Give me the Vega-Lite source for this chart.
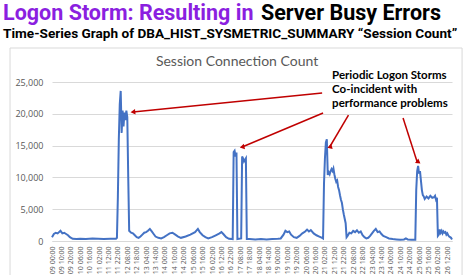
{
  "$schema": "https://vega.github.io/schema/vega-lite/v6.json",
  "width": 400,
  "height": 159,
  "autosize": {"type": "none"},
  "padding": {"left": 52, "top": 82, "right": 22, "bottom": 34},
  "background": "white",
  "config": {"view": {"stroke": null}},
  "datasets": {
    "series": [
      {"t": "2019-05-09T00:00", "v": 600}, {"t": "2019-05-09T02:00", "v": 1100}, {"t": "2019-05-09T04:00", "v": 1300},
      {"t": "2019-05-09T06:00", "v": 1200}, {"t": "2019-05-09T09:00", "v": 1600}, {"t": "2019-05-09T11:00", "v": 1200},
      {"t": "2019-05-09T13:00", "v": 1300}, {"t": "2019-05-09T15:00", "v": 1100}, {"t": "2019-05-09T17:00", "v": 900},
      {"t": "2019-05-09T19:00", "v": 600}, {"t": "2019-05-09T22:00", "v": 350}, {"t": "2019-05-10T02:00", "v": 300},
      {"t": "2019-05-10T06:00", "v": 350}, {"t": "2019-05-10T12:00", "v": 300}, {"t": "2019-05-10T19:00", "v": 400},
      {"t": "2019-05-11T01:00", "v": 350}, {"t": "2019-05-11T07:00", "v": 300}, {"t": "2019-05-11T14:00", "v": 350},
      {"t": "2019-05-11T20:00", "v": 350}, {"t": "2019-05-11T21:00", "v": 500}, {"t": "2019-05-11T22:00", "v": 7000},
      {"t": "2019-05-11T23:00", "v": 16000}, {"t": "2019-05-12T00:00", "v": 21500}, {"t": "2019-05-12T01:00", "v": 23600},
      {"t": "2019-05-12T02:00", "v": 17000}, {"t": "2019-05-12T03:00", "v": 20500}, {"t": "2019-05-12T04:00", "v": 18000},
      {"t": "2019-05-12T05:00", "v": 20200}, {"t": "2019-05-12T06:00", "v": 19000}, {"t": "2019-05-12T07:00", "v": 20500},
      {"t": "2019-05-12T08:00", "v": 19500}, {"t": "2019-05-12T09:00", "v": 10000}, {"t": "2019-05-12T10:00", "v": 1600},
      {"t": "2019-05-12T12:00", "v": 1300}, {"t": "2019-05-12T14:00", "v": 1200}, {"t": "2019-05-12T16:00", "v": 900},
      {"t": "2019-05-12T18:00", "v": 600}, {"t": "2019-05-12T20:00", "v": 500}, {"t": "2019-05-12T22:00", "v": 700},
      {"t": "2019-05-13T00:00", "v": 1000}, {"t": "2019-05-13T02:00", "v": 1300}, {"t": "2019-05-13T04:00", "v": 1400},
      {"t": "2019-05-13T06:00", "v": 1600}, {"t": "2019-05-13T08:00", "v": 1900}, {"t": "2019-05-13T10:00", "v": 1500},
      {"t": "2019-05-13T12:00", "v": 1100}, {"t": "2019-05-13T14:00", "v": 700}, {"t": "2019-05-13T17:00", "v": 500},
      {"t": "2019-05-13T20:00", "v": 400}, {"t": "2019-05-13T23:00", "v": 600}, {"t": "2019-05-14T02:00", "v": 900},
      {"t": "2019-05-14T05:00", "v": 1200}, {"t": "2019-05-14T08:00", "v": 1300}, {"t": "2019-05-14T11:00", "v": 1000},
      {"t": "2019-05-14T14:00", "v": 700}, {"t": "2019-05-14T17:00", "v": 500}, {"t": "2019-05-14T22:00", "v": 700},
      {"t": "2019-05-15T03:00", "v": 1000}, {"t": "2019-05-15T08:00", "v": 1400}, {"t": "2019-05-15T11:00", "v": 1900},
      {"t": "2019-05-15T13:00", "v": 1400}, {"t": "2019-05-15T16:00", "v": 900}, {"t": "2019-05-15T19:00", "v": 600},
      {"t": "2019-05-15T22:00", "v": 400}, {"t": "2019-05-16T02:00", "v": 600}, {"t": "2019-05-16T06:00", "v": 900},
      {"t": "2019-05-16T10:00", "v": 1200}, {"t": "2019-05-16T12:00", "v": 1400}, {"t": "2019-05-16T14:00", "v": 1100},
      {"t": "2019-05-16T17:00", "v": 600}, {"t": "2019-05-16T20:00", "v": 350}, {"t": "2019-05-17T00:00", "v": 300},
      {"t": "2019-05-17T01:00", "v": 14000}, {"t": "2019-05-17T02:00", "v": 14200}, {"t": "2019-05-17T03:00", "v": 13300},
      {"t": "2019-05-17T04:00", "v": 13900}, {"t": "2019-05-17T05:00", "v": 300}, {"t": "2019-05-17T09:00", "v": 400},
      {"t": "2019-05-17T10:00", "v": 13300}, {"t": "2019-05-17T11:00", "v": 13000}, {"t": "2019-05-17T12:00", "v": 12500},
      {"t": "2019-05-17T14:00", "v": 13000}, {"t": "2019-05-17T15:00", "v": 300}, {"t": "2019-05-17T18:00", "v": 300},
      {"t": "2019-05-18T00:00", "v": 250}, {"t": "2019-05-18T06:00", "v": 300}, {"t": "2019-05-18T12:00", "v": 250},
      {"t": "2019-05-18T18:00", "v": 300}, {"t": "2019-05-19T00:00", "v": 350}, {"t": "2019-05-19T03:00", "v": 400},
      {"t": "2019-05-19T06:00", "v": 1000}, {"t": "2019-05-19T08:00", "v": 1600}, {"t": "2019-05-19T10:00", "v": 1400},
      {"t": "2019-05-19T12:00", "v": 1500}, {"t": "2019-05-19T14:00", "v": 1000}, {"t": "2019-05-19T17:00", "v": 600},
      {"t": "2019-05-19T20:00", "v": 500}, {"t": "2019-05-19T23:00", "v": 800}, {"t": "2019-05-20T02:00", "v": 1200},
      {"t": "2019-05-20T05:00", "v": 1500}, {"t": "2019-05-20T07:00", "v": 1800}, {"t": "2019-05-20T09:00", "v": 1500},
      {"t": "2019-05-20T11:00", "v": 1700}, {"t": "2019-05-20T14:00", "v": 1200}, {"t": "2019-05-20T17:00", "v": 900},
      {"t": "2019-05-20T20:00", "v": 700}, {"t": "2019-05-20T23:00", "v": 500}, {"t": "2019-05-21T00:00", "v": 400},
      {"t": "2019-05-21T01:00", "v": 9000}, {"t": "2019-05-21T02:00", "v": 13000}, {"t": "2019-05-21T03:00", "v": 15500},
      {"t": "2019-05-21T04:00", "v": 16000}, {"t": "2019-05-21T05:00", "v": 10400}, {"t": "2019-05-21T06:00", "v": 10800},
      {"t": "2019-05-21T07:00", "v": 10500}, {"t": "2019-05-21T08:00", "v": 11000}, {"t": "2019-05-21T09:00", "v": 11300},
      {"t": "2019-05-21T10:00", "v": 11000}, {"t": "2019-05-21T11:00", "v": 11400}, {"t": "2019-05-21T12:00", "v": 10500},
      {"t": "2019-05-21T13:00", "v": 9800}, {"t": "2019-05-21T14:00", "v": 9300}, {"t": "2019-05-21T15:00", "v": 9500},
      {"t": "2019-05-21T16:00", "v": 8500}, {"t": "2019-05-21T17:00", "v": 8000}, {"t": "2019-05-21T18:00", "v": 7200},
      {"t": "2019-05-21T19:00", "v": 6500}, {"t": "2019-05-21T20:00", "v": 6000}, {"t": "2019-05-21T21:00", "v": 5000},
      {"t": "2019-05-21T22:00", "v": 4200}, {"t": "2019-05-21T23:00", "v": 3500}, {"t": "2019-05-22T00:00", "v": 2800},
      {"t": "2019-05-22T01:00", "v": 600}, {"t": "2019-05-22T02:00", "v": 800}, {"t": "2019-05-22T04:00", "v": 1300},
      {"t": "2019-05-22T06:00", "v": 1200}, {"t": "2019-05-22T08:00", "v": 1600}, {"t": "2019-05-22T10:00", "v": 1400},
      {"t": "2019-05-22T12:00", "v": 1700}, {"t": "2019-05-22T14:00", "v": 1300}, {"t": "2019-05-22T16:00", "v": 1500},
      {"t": "2019-05-22T18:00", "v": 900}, {"t": "2019-05-22T20:00", "v": 600}, {"t": "2019-05-22T22:00", "v": 400},
      {"t": "2019-05-23T00:00", "v": 500}, {"t": "2019-05-23T02:00", "v": 800}, {"t": "2019-05-23T04:00", "v": 1200},
      {"t": "2019-05-23T06:00", "v": 1600}, {"t": "2019-05-23T08:00", "v": 1900}, {"t": "2019-05-23T10:00", "v": 1400},
      {"t": "2019-05-23T12:00", "v": 1500}, {"t": "2019-05-23T14:00", "v": 1100}, {"t": "2019-05-23T16:00", "v": 800},
      {"t": "2019-05-23T19:00", "v": 600}, {"t": "2019-05-23T22:00", "v": 400}, {"t": "2019-05-24T02:00", "v": 300},
      {"t": "2019-05-24T06:00", "v": 250}, {"t": "2019-05-24T10:00", "v": 200}, {"t": "2019-05-24T14:00", "v": 250},
      {"t": "2019-05-24T16:00", "v": 400}, {"t": "2019-05-24T18:00", "v": 250}, {"t": "2019-05-24T22:00", "v": 200},
      {"t": "2019-05-25T02:00", "v": 200}, {"t": "2019-05-25T03:00", "v": 8000}, {"t": "2019-05-25T04:00", "v": 11000},
      {"t": "2019-05-25T05:00", "v": 11800}, {"t": "2019-05-25T06:00", "v": 10600}, {"t": "2019-05-25T07:00", "v": 11000},
      {"t": "2019-05-25T08:00", "v": 9500}, {"t": "2019-05-25T09:00", "v": 8000}, {"t": "2019-05-25T10:00", "v": 7200},
      {"t": "2019-05-25T11:00", "v": 7000}, {"t": "2019-05-25T12:00", "v": 6600}, {"t": "2019-05-25T14:00", "v": 7000},
      {"t": "2019-05-25T16:00", "v": 6700}, {"t": "2019-05-25T18:00", "v": 7100}, {"t": "2019-05-25T20:00", "v": 6800},
      {"t": "2019-05-25T22:00", "v": 6900}, {"t": "2019-05-25T23:00", "v": 7100}, {"t": "2019-05-26T00:00", "v": 6500},
      {"t": "2019-05-26T01:00", "v": 6800}, {"t": "2019-05-26T02:00", "v": 800}, {"t": "2019-05-26T03:00", "v": 1000},
      {"t": "2019-05-26T04:00", "v": 1800}, {"t": "2019-05-26T05:00", "v": 1300}, {"t": "2019-05-26T06:00", "v": 1600},
      {"t": "2019-05-26T07:00", "v": 1200}, {"t": "2019-05-26T08:00", "v": 1500}, {"t": "2019-05-26T09:00", "v": 1300},
      {"t": "2019-05-26T10:00", "v": 1400}, {"t": "2019-05-26T11:00", "v": 1000}, {"t": "2019-05-26T12:00", "v": 1200},
      {"t": "2019-05-26T13:00", "v": 900}, {"t": "2019-05-26T14:00", "v": 700}, {"t": "2019-05-26T15:00", "v": 600},
      {"t": "2019-05-26T16:00", "v": 500}, {"t": "2019-05-26T17:00", "v": 250}
    ],
    "arrows": [
      {"arrow": "a1", "t": "2019-05-20T23:00", "v": 23270, "t2": "2019-05-12T14:00", "v2": 20280},
      {"arrow": "a2", "t": "2019-05-21T00:00", "v": 20120, "t2": "2019-05-17T10:00", "v2": 14780},
      {"arrow": "a3", "t": "2019-05-22T03:00", "v": 19800, "t2": "2019-05-21T07:00", "v2": 14780},
      {"arrow": "a4", "t": "2019-05-24T13:00", "v": 19340, "t2": "2019-05-25T04:00", "v2": 12420}
    ]
  },
  "encoding": {
    "x": {
      "field": "t", "type": "temporal",
      "scale": {"domain": [{"year": 2019, "month": 5, "date": 9, "hours": 0}, {"year": 2019, "month": 5, "date": 26, "hours": 17}]},
      "axis": {
        "title": null, "format": "%d %H:%M", "labelAngle": -90, "labelFont": "Open Sans", "labelFontSize": 7,
        "labelColor": "#595959", "labelPadding": 5, "ticks": false, "grid": false, "domain": true, "domainColor": "#d9d9d9",
        "labelOverlap": false, "labelBound": false, "labelFlush": false, "tickCount": 100,
        "values": [
          {"year": 2019, "month": 5, "date": 9, "hours": 0}, {"year": 2019, "month": 5, "date": 9, "hours": 10},
          {"year": 2019, "month": 5, "date": 9, "hours": 20}, {"year": 2019, "month": 5, "date": 10, "hours": 6},
          {"year": 2019, "month": 5, "date": 10, "hours": 16}, {"year": 2019, "month": 5, "date": 11, "hours": 2},
          {"year": 2019, "month": 5, "date": 11, "hours": 12}, {"year": 2019, "month": 5, "date": 11, "hours": 22},
          {"year": 2019, "month": 5, "date": 12, "hours": 8}, {"year": 2019, "month": 5, "date": 12, "hours": 18},
          {"year": 2019, "month": 5, "date": 13, "hours": 4}, {"year": 2019, "month": 5, "date": 13, "hours": 14},
          {"year": 2019, "month": 5, "date": 14, "hours": 0}, {"year": 2019, "month": 5, "date": 14, "hours": 10},
          {"year": 2019, "month": 5, "date": 14, "hours": 20}, {"year": 2019, "month": 5, "date": 15, "hours": 6},
          {"year": 2019, "month": 5, "date": 15, "hours": 16}, {"year": 2019, "month": 5, "date": 16, "hours": 2},
          {"year": 2019, "month": 5, "date": 16, "hours": 12}, {"year": 2019, "month": 5, "date": 16, "hours": 22},
          {"year": 2019, "month": 5, "date": 17, "hours": 8}, {"year": 2019, "month": 5, "date": 17, "hours": 18},
          {"year": 2019, "month": 5, "date": 18, "hours": 4}, {"year": 2019, "month": 5, "date": 18, "hours": 14},
          {"year": 2019, "month": 5, "date": 19, "hours": 0}, {"year": 2019, "month": 5, "date": 19, "hours": 10},
          {"year": 2019, "month": 5, "date": 19, "hours": 20}, {"year": 2019, "month": 5, "date": 20, "hours": 6},
          {"year": 2019, "month": 5, "date": 20, "hours": 16}, {"year": 2019, "month": 5, "date": 21, "hours": 2},
          {"year": 2019, "month": 5, "date": 21, "hours": 12}, {"year": 2019, "month": 5, "date": 21, "hours": 22},
          {"year": 2019, "month": 5, "date": 22, "hours": 8}, {"year": 2019, "month": 5, "date": 22, "hours": 18},
          {"year": 2019, "month": 5, "date": 23, "hours": 4}, {"year": 2019, "month": 5, "date": 23, "hours": 14},
          {"year": 2019, "month": 5, "date": 24, "hours": 0}, {"year": 2019, "month": 5, "date": 24, "hours": 10},
          {"year": 2019, "month": 5, "date": 24, "hours": 20}, {"year": 2019, "month": 5, "date": 25, "hours": 6},
          {"year": 2019, "month": 5, "date": 25, "hours": 16}, {"year": 2019, "month": 5, "date": 26, "hours": 2},
          {"year": 2019, "month": 5, "date": 26, "hours": 12}
        ]
      }
    },
    "y": {
      "field": "v", "type": "quantitative",
      "scale": {"domain": [0, 25000], "nice": false},
      "axis": {
        "title": null, "values": [0, 5000, 10000, 15000, 20000, 25000], "format": ",.0f", "labelFont": "Open Sans",
        "labelFontSize": 9, "labelColor": "#595959", "labelPadding": 9, "ticks": false, "domain": false,
        "gridColor": "#d9d9d9", "gridWidth": 1, "labelOverlap": false, "tickCount": 20
      }
    }
  },
  "layer": [
    {
      "data": {"name": "series"},
      "mark": {"type": "line", "color": "#4472C4", "strokeWidth": 2}
    },
    {
      "data": {"values": [{"t": "2019-05-07T03:24", "t2": "2019-05-27T03:42", "v": 30345, "v2": -7000}]},
      "mark": {"type": "rect", "fill": null, "stroke": "#d9d9d9", "strokeWidth": 1, "clip": false},
      "encoding": {
        "x2": {"field": "t2"},
        "y2": {"field": "v2"}
      }
    },
    {
      "data": {"name": "arrows"},
      "mark": {"type": "rule", "color": "#C00000", "strokeWidth": 1.5},
      "encoding": {
        "x2": {"field": "t2"},
        "y2": {"field": "v2"}
      }
    },
    {
      "data": {"name": "arrows"},
      "mark": {"type": "point", "shape": "triangle-up", "filled": true, "color": "#C00000", "size": 30, "opacity": 1},
      "encoding": {
        "x": {"field": "t2", "type": "temporal"},
        "y": {"field": "v2", "type": "quantitative"},
        "angle": {"field": "arrow", "type": "nominal", "scale": {"domain": ["a1", "a2", "a3", "a4"], "range": [264, 247, 209, 162]}, "legend": null}
      }
    },
    {
      "data": {"values": [{"t": "2019-05-17T04:36", "v": 27515, "label": "Session Connection Count"}]},
      "mark": {"type": "text", "align": "center", "baseline": "alphabetic", "font": "Lato", "fontSize": 14, "color": "#595959"},
      "encoding": {"text": {"field": "label"}}
    },
    {
      "data": {"values": [{"t": "2019-05-21T09:36", "v": 26900, "label": "Periodic Logon Storms\nCo-incident with\nperformance problems"}]},
      "mark": {"type": "text", "align": "left", "baseline": "top", "lineBreak": "\n", "lineHeight": 14, "font": "Lato", "fontSize": 11.5, "fontWeight": "bold", "color": "#000000"},
      "encoding": {"text": {"field": "label"}}
    },
    {
      "data": {"values": [{"t": "2019-05-06T20:00", "v": 34800, "label": "Logon Storm: Resulting in"}]},
      "mark": {"type": "text", "align": "left", "baseline": "alphabetic", "font": "Roboto", "fontSize": 21.5, "fontWeight": "bold", "color": "#8B1FE0"},
      "encoding": {"text": {"field": "label"}}
    },
    {
      "data": {"values": [{"t": "2019-05-18T06:00", "v": 34800, "label": "Server Busy Errors"}]},
      "mark": {"type": "text", "align": "left", "baseline": "alphabetic", "font": "Roboto", "fontSize": 21.5, "fontWeight": "bold", "color": "#000000"},
      "encoding": {"text": {"field": "label"}}
    },
    {
      "data": {"values": [{"t": "2019-05-06T20:00", "v": 31870, "label": "Time-Series Graph of DBA_HIST_SYSMETRIC_SUMMARY “Session Count”"}]},
      "mark": {"type": "text", "align": "left", "baseline": "alphabetic", "font": "Roboto", "fontSize": 13.6, "fontWeight": "bold", "color": "#000000"},
      "encoding": {"text": {"field": "label"}}
    }
  ]
}
